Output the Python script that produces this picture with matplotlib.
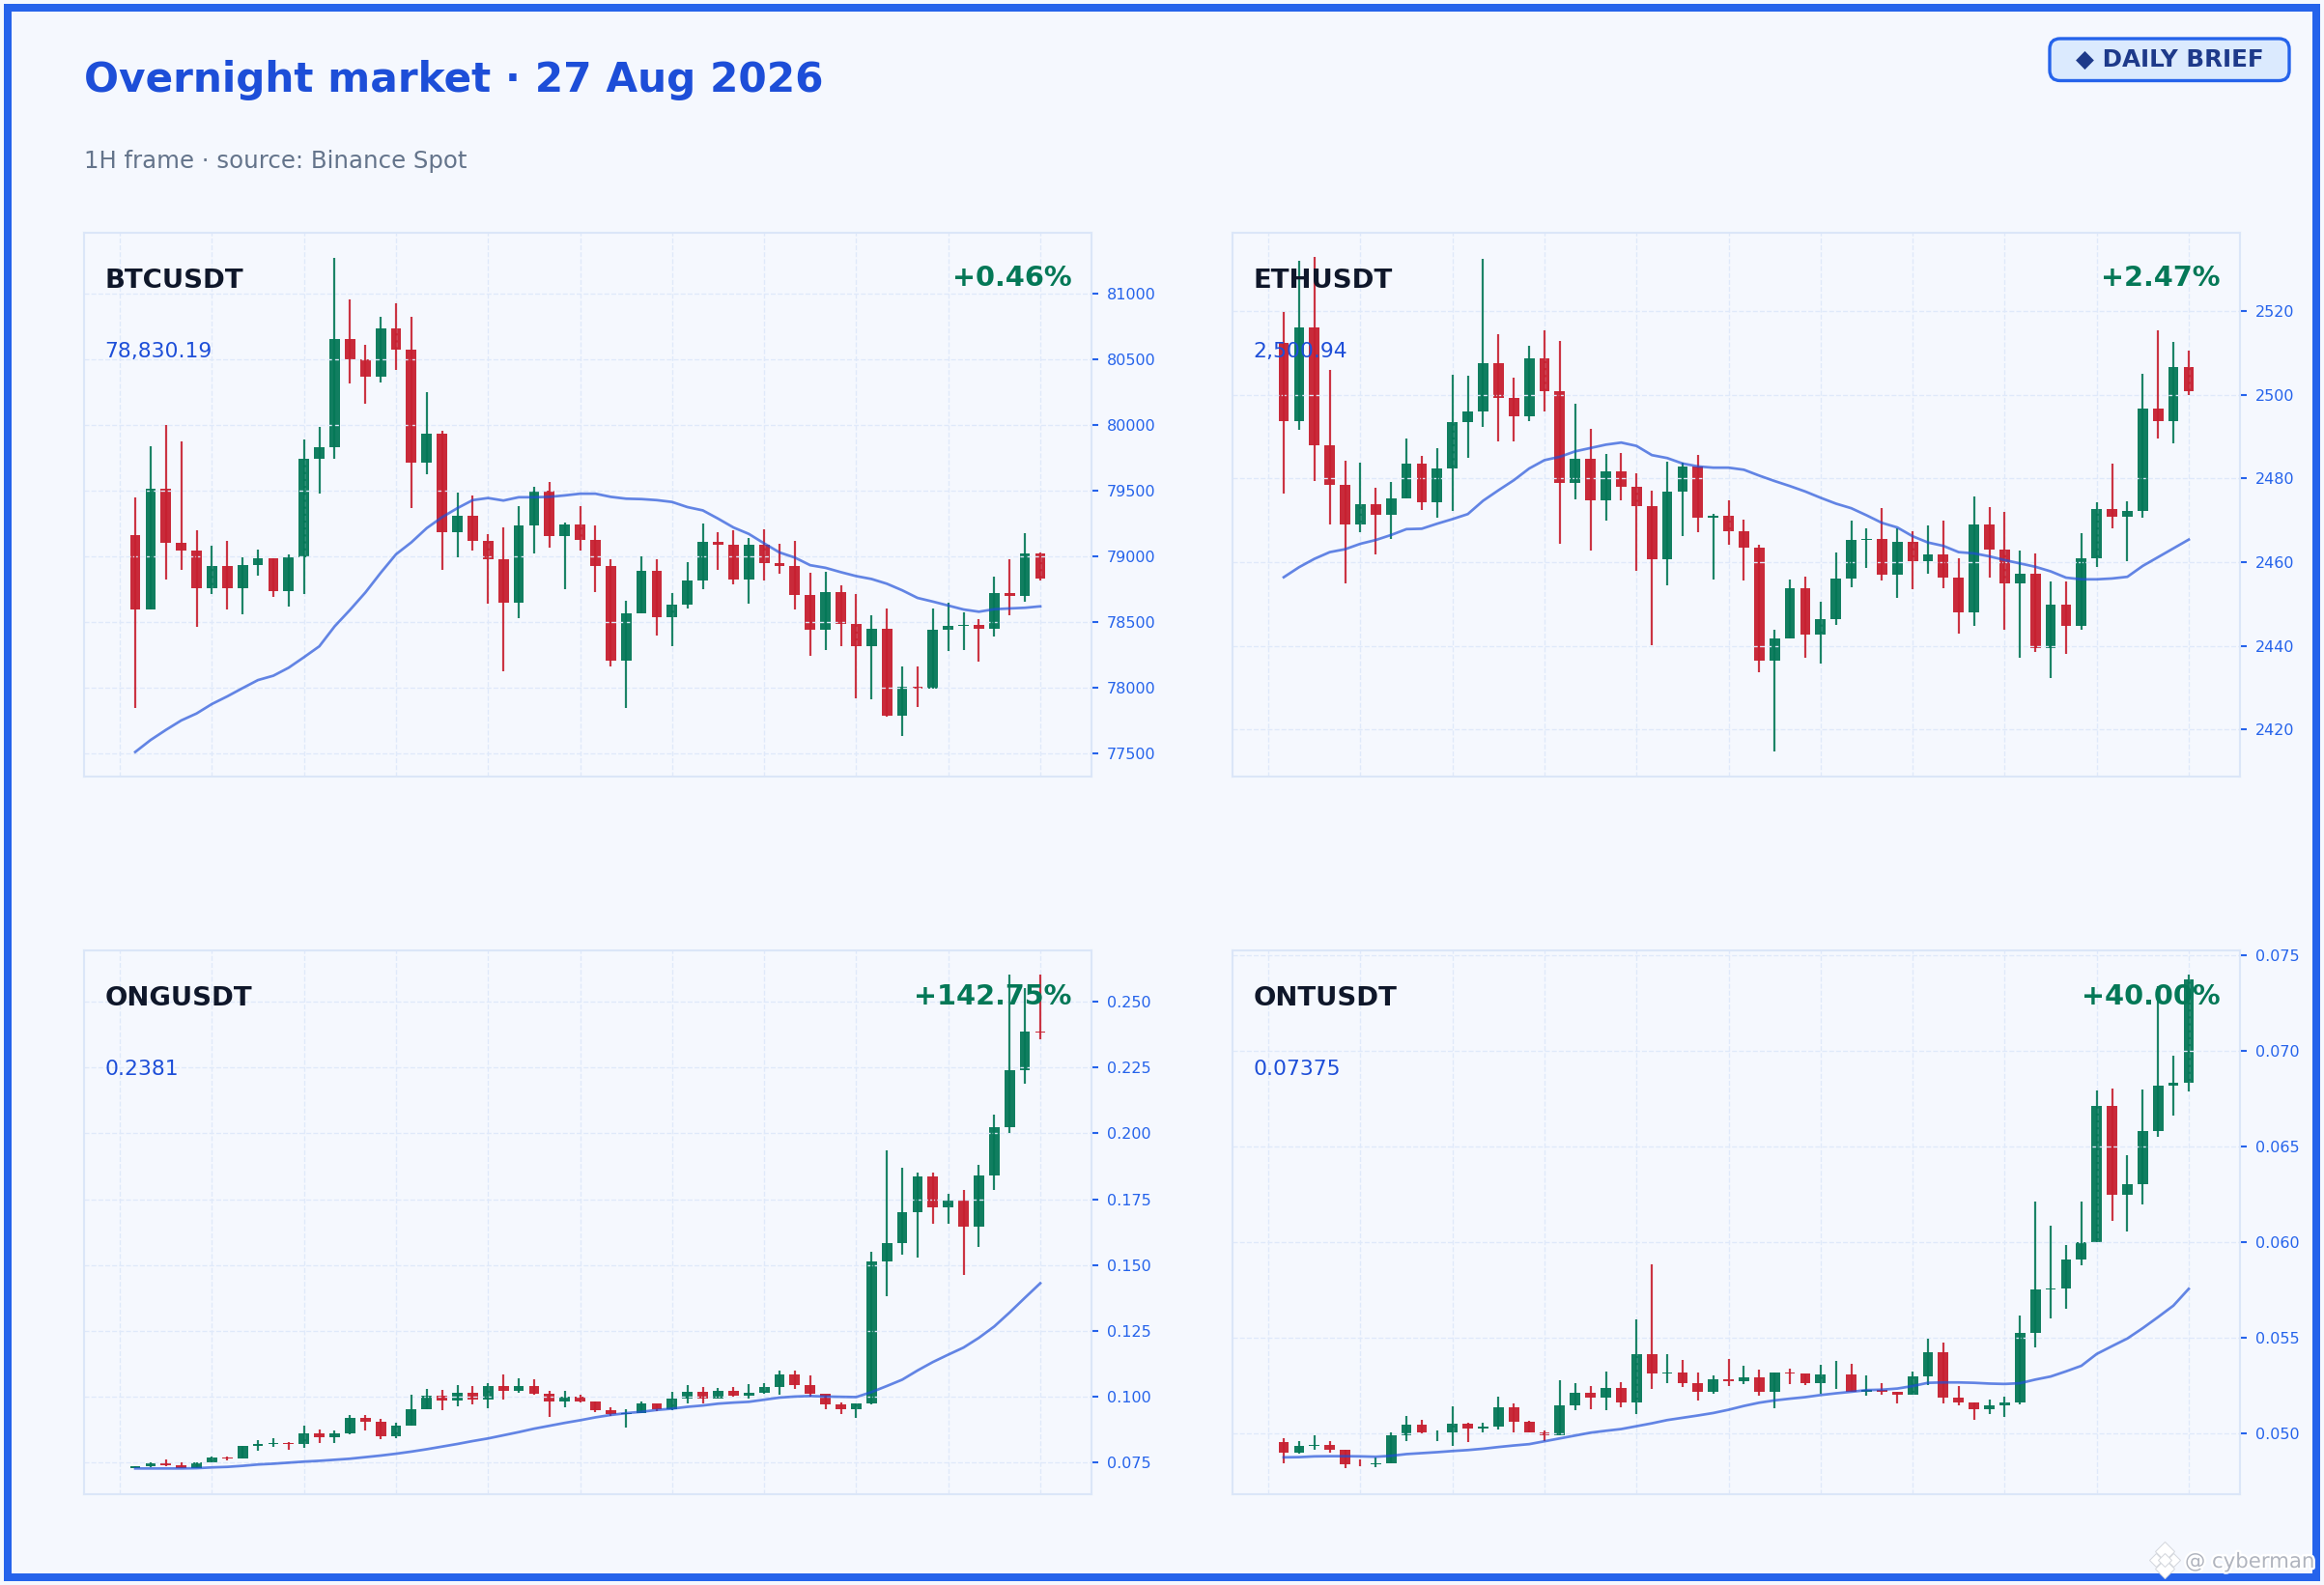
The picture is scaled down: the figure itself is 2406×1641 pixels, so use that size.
import matplotlib
matplotlib.use("Agg")
import matplotlib.pyplot as plt
from matplotlib.patches import Rectangle, FancyBboxPatch
from matplotlib.lines import Line2D
import matplotlib.patheffects as pe

# ---------- data ----------
TITLE = "Overnight market · 27 Aug 2026"
SUBTITLE = "1H frame · source: Binance Spot"
BADGE = "◆ DAILY BRIEF"
WATERMARK = "@ cyberman"

BTC_OPEN0 = 79164
BTC_CLOSE = [78598,79515,79106,79045,78761,78929,78761,78938,78987,78739,
             78996,79745,79833,80654,80500,80370,80737,80574,79712,79936,
             79186,79311,79120,78979,78650,79239,79499,79156,79244,79128,
             78929,78208,78570,78893,78540,78636,78819,79112,79092,78827,
             79090,78951,78932,78708,78443,78730,78490,78318,78451,77790,
             78011,77992,78443,78473,78481,78454,78722,78703,79023,78830.19]
BTC_HIGH = [79452,79839,79999,79878,79200,79084,79120,78996,79054,78987,
            79018,79891,79988,81276,80956,80610,80826,80928,80826,80251,
            79958,79488,79466,79173,79222,79388,79532,79568,79258,79385,
            79239,78979,78664,79001,78979,78722,78960,79253,79186,79203,
            79142,79209,79098,79120,78877,78888,78783,78716,78553,78606,
            78164,78164,78606,78647,78575,78526,78849,78979,79178,79032]
BTC_LOW = [77851,78598,78827,78899,78465,78719,78598,78564,78857,78697,
           78622,78719,79482,79745,80317,80160,80328,80419,79369,79629,
           78896,78998,79045,78642,78125,78531,79023,79068,78752,79045,
           78730,78166,77851,78570,78401,78316,78609,78755,78899,78788,
           78642,78819,78871,78598,78246,78291,78318,77923,77915,77779,
           77635,77857,77992,78282,78291,78202,78393,78553,78658,78819]
BTC_MA = [77514,77605,77682,77754,77807,77879,77937,78000,78061,78094,
          78155,78235,78318,78470,78595,78727,78877,79018,79109,79217,
          79300,79369,79430,79446,79427,79452,79452,79455,79466,79479,
          79479,79455,79441,79438,79430,79416,79377,79352,79289,79222,
          79173,79101,79032,78993,78935,78915,78882,78852,78830,78794,
          78744,78686,78658,78628,78598,78581,78600,78606,78611,78622]
BTC_TICKS = [77500,78000,78500,79000,79500,80000,80500,81000]
BTC_YLIM = (77329, 81462)

ETH_OPEN0 = 2512.4
ETH_CLOSE = [2493.8,2516.1,2487.9,2478.5,2469.0,2473.9,2471.3,2475.3,2483.6,2474.3,
             2482.4,2493.5,2496.0,2507.6,2499.2,2494.9,2508.7,2500.9,2478.9,2484.7,
             2474.8,2481.7,2478.0,2473.4,2460.7,2476.9,2482.9,2470.7,2471.1,2467.4,
             2463.4,2436.4,2441.8,2453.8,2442.7,2446.4,2456.1,2465.4,2465.5,2457.0,
             2464.8,2460.2,2461.9,2456.3,2448.0,2469.0,2463.0,2454.9,2457.3,2439.5,
             2449.9,2444.8,2460.9,2472.7,2470.8,2472.2,2496.7,2493.8,2506.6,2500.94]
ETH_HIGH = [2519.8,2532.1,2532.9,2505.9,2484.3,2483.8,2477.8,2479.2,2489.6,2485.4,
            2487.2,2504.8,2504.5,2532.5,2514.5,2504.1,2511.7,2515.4,2512.9,2497.8,
            2491.9,2485.9,2486.1,2481.3,2477.1,2484.0,2483.8,2485.7,2471.5,2474.8,
            2470.1,2464.1,2443.8,2455.9,2456.6,2450.6,2462.3,2470.0,2468.1,2472.9,
            2468.1,2467.4,2468.8,2470.0,2460.9,2475.7,2473.2,2472.0,2462.7,2462.0,
            2455.4,2455.4,2466.9,2474.3,2483.6,2474.6,2505.0,2515.4,2512.6,2510.6]
ETH_LOW = [2476.4,2491.7,2479.4,2469.0,2454.9,2467.2,2461.9,2465.5,2475.3,2472.5,
           2470.7,2472.2,2485.0,2492.4,2488.9,2488.9,2493.8,2496.0,2464.4,2475.0,
           2462.7,2470.0,2474.8,2458.0,2440.2,2454.5,2466.2,2467.2,2455.9,2464.1,
           2455.6,2433.7,2414.8,2441.8,2437.1,2435.7,2445.0,2454.0,2458.7,2455.6,
           2451.5,2453.5,2457.3,2453.8,2442.9,2444.8,2456.3,2443.8,2437.1,2438.5,
           2432.3,2438.1,2443.9,2458.8,2468.1,2460.2,2470.7,2489.6,2488.4,2499.9]
ETH_MA = [2456.4,2458.8,2460.8,2462.4,2463.1,2464.4,2465.3,2466.5,2467.9,2468.0,
          2469.2,2470.3,2471.5,2474.7,2477.2,2479.6,2482.4,2484.4,2485.2,2486.5,
          2487.3,2488.1,2488.6,2487.8,2485.6,2484.9,2483.6,2482.9,2482.6,2482.6,
          2482.1,2480.7,2479.4,2478.2,2476.9,2475.4,2474.0,2472.9,2471.2,2469.4,
          2468.3,2466.2,2464.7,2463.9,2462.4,2462.1,2461.4,2460.5,2459.7,2458.9,
          2457.8,2456.3,2455.9,2455.9,2456.1,2456.5,2459.1,2461.2,2463.3,2465.4]
ETH_TICKS = [2420,2440,2460,2480,2500,2520]
ETH_YLIM = (2408.8, 2538.7)

ONG_OPEN0 = 0.0729
ONG_CLOSE = [.0737,.0748,.0740,.0729,.0751,.0770,.0765,.0814,.0821,.0825,
             .0821,.0862,.0847,.0862,.0920,.0906,.0850,.0891,.0953,.1005,
             .0987,.1016,.0990,.1042,.1023,.1042,.1012,.0983,.1001,.0983,
             .0948,.0934,.0939,.0974,.0953,.0993,.1019,.0993,.1022,.1004,
             .1014,.1037,.1084,.1045,.1011,.0972,.0953,.0974,.1514,.1583,
             .1701,.1837,.1719,.1745,.1646,.1840,.2023,.2240,.2386,.2381]
ONG_HIGH = [.0737,.0751,.0762,.0751,.0751,.0773,.0773,.0814,.0836,.0843,
            .0828,.0891,.0876,.0873,.0931,.0931,.0917,.0902,.1009,.1031,
            .1027,.1045,.1042,.1053,.1086,.1071,.1067,.1023,.1023,.1009,
            .0982,.0962,.0953,.0981,.0972,.1019,.1045,.1037,.1034,.1039,
            .1047,.1052,.1099,.1099,.1081,.1008,.0978,.0974,.1551,.1936,
            .1870,.1851,.1851,.1770,.1785,.1880,.2072,.2603,.2552,.2603]
ONG_LOW = [.0729,.0733,.0737,.0729,.0729,.0751,.0759,.0765,.0795,.0810,
           .0799,.0806,.0825,.0825,.0858,.0873,.0839,.0843,.0891,.0953,
           .0950,.0964,.0972,.0957,.0990,.1016,.1009,.0924,.0961,.0979,
           .0942,.0928,.0883,.0938,.0946,.0951,.0974,.0974,.0993,.1000,
           .0993,.1011,.1008,.1030,.1000,.0953,.0935,.0920,.0972,.1381,
           .1540,.1528,.1657,.1657,.1463,.1568,.1785,.2001,.2188,.2357]
ONG_MA = [.0728,.0728,.0728,.0728,.0729,.0732,.0734,.0738,.0743,.0746,
          .0750,.0754,.0757,.0761,.0765,.0771,.0777,.0784,.0792,.0801,
          .0811,.0821,.0832,.0842,.0854,.0866,.0879,.0890,.0901,.0911,
          .0922,.0931,.0938,.0943,.0950,.0955,.0962,.0967,.0974,.0978,
          .0981,.0989,.0997,.1001,.1003,.1001,.1000,.0999,.1018,.1041,
          .1065,.1100,.1132,.1160,.1187,.1224,.1267,.1320,.1376,.1431]
ONG_TICKS = [.075,.100,.125,.150,.175,.200,.225,.250]
ONG_YLIM = (0.0631, 0.2693)

ONT_OPEN0 = 0.04956
ONT_CLOSE = [.04896,.04936,.04939,.04916,.04840,.04837,.04845,.04987,.05047,.05002,
             .05007,.05052,.05027,.05037,.05138,.05062,.05002,.04987,.05148,.05214,
             .05189,.05239,.05163,.05416,.05315,.05320,.05264,.05219,.05285,.05274,
             .05292,.05219,.05318,.05312,.05262,.05307,.05308,.05219,.05228,.05219,
             .05204,.05297,.05424,.05185,.05161,.05125,.05146,.05161,.05525,.05752,
             .05757,.05909,.06000,.06713,.06247,.06303,.06582,.06820,.06834,.07375]
ONT_HIGH = [.04976,.04961,.04987,.04961,.04916,.04865,.04875,.05002,.05088,.05072,
            .05017,.05143,.05057,.05057,.05194,.05158,.05067,.05017,.05279,.05264,
            .05249,.05325,.05269,.05598,.05886,.05416,.05386,.05320,.05305,.05391,
            .05355,.05331,.05318,.05338,.05307,.05357,.05378,.05363,.05303,.05262,
            .05217,.05322,.05494,.05475,.05247,.05161,.05176,.05194,.05615,.06212,
            .06086,.05985,.06212,.06793,.06805,.06455,.06799,.07341,.06977,.07401]
ONT_LOW = [.04845,.04891,.04916,.04896,.04815,.04830,.04825,.04845,.04961,.04997,
           .04961,.04936,.04956,.05002,.05022,.05002,.05002,.04961,.04987,.05123,
           .05128,.05123,.05138,.05103,.05234,.05264,.05244,.05173,.05209,.05249,
           .05259,.05199,.05133,.05256,.05252,.05206,.05232,.05219,.05196,.05202,
           .05155,.05202,.05252,.05155,.05146,.05069,.05101,.05084,.05151,.05449,
           .05600,.05651,.05879,.06000,.06111,.06055,.06197,.06550,.06662,.06788]
ONT_MA = [.04874,.04875,.04879,.04880,.04880,.04879,.04877,.04882,.04891,.04896,
          .04901,.04907,.04912,.04919,.04928,.04936,.04943,.04958,.04973,.04988,
          .05003,.05013,.05022,.05037,.05052,.05069,.05081,.05093,.05106,.05123,
          .05143,.05160,.05172,.05181,.05189,.05200,.05209,.05217,.05226,.05228,
          .05234,.05247,.05264,.05266,.05266,.05264,.05260,.05258,.05262,.05281,
          .05297,.05324,.05353,.05415,.05456,.05496,.05550,.05608,.05668,.05756]
ONT_TICKS = [.050,.055,.060,.065,.070,.075]
ONT_YLIM = (0.04682, 0.07525)

PANELS = [
    ("BTCUSDT", "78,830.19", "+0.46%", BTC_OPEN0, BTC_CLOSE, BTC_HIGH, BTC_LOW, BTC_MA, BTC_TICKS, BTC_YLIM, "{:.0f}"),
    ("ETHUSDT", "2,500.94", "+2.47%", ETH_OPEN0, ETH_CLOSE, ETH_HIGH, ETH_LOW, ETH_MA, ETH_TICKS, ETH_YLIM, "{:.0f}"),
    ("ONGUSDT", "0.2381", "+142.75%", ONG_OPEN0, ONG_CLOSE, ONG_HIGH, ONG_LOW, ONG_MA, ONG_TICKS, ONG_YLIM, "{:.3f}"),
    ("ONTUSDT", "0.07375", "+40.00%", ONT_OPEN0, ONT_CLOSE, ONT_HIGH, ONT_LOW, ONT_MA, ONT_TICKS, ONT_YLIM, "{:.3f}"),
]

# ---------- style ----------
W, H = 2406, 1641
DPI = 150
BG = "#f5f8fe"
BLUE = "#2563eb"
GRID = "#dfe9fa"
SPINE = "#dbe6f8"
UP = "#047857"
DOWN = "#c71f2f"
AXES_PX = [(87, 241.3, 1130, 803.7), (1276, 241.3, 2319, 803.7),
           (87, 984.4, 1130, 1546.8), (1276, 984.4, 2319, 1546.8)]

fig = plt.figure(figsize=(W / DPI, H / DPI), dpi=DPI, facecolor=BG)


def fx(px):
    return px / W


def fy(py):
    return 1 - py / H


fig.add_artist(Rectangle((fx(8), fy(1633)), fx(2390), (1633 - 8) / H,
                         transform=fig.transFigure, fill=False, edgecolor=BLUE, linewidth=3.84))

fig.text(fx(87), fy(95), TITLE, fontsize=20.3, fontweight="bold", color="#1d4ed8", va="baseline", ha="left")
fig.text(fx(87), fy(174), SUBTITLE, fontsize=11.7, color="#64748b", va="baseline", ha="left")

fig.add_artist(FancyBboxPatch((fx(2122), fy(83.5)), fx(2370 - 2122), (83.5 - 40) / H,
                              boxstyle="round,pad=0,rounding_size=0.0045",
                              transform=fig.transFigure, facecolor="#dbeafe", edgecolor=BLUE, linewidth=1.6,
                              mutation_aspect=W / H))
fig.text(fx(2246), fy(62), BADGE, fontsize=11.8, fontweight="bold", color="#1e3a8a", va="center", ha="center")

for (l, t, r, b), (name, price, chg, o0, close, high, low, ma, ticks, ylim, fmt) in zip(AXES_PX, PANELS):
    ax = fig.add_axes([fx(l), fy(b), (r - l) / W, (b - t) / H], facecolor=BG)
    xs = list(range(len(close)))
    opens = [o0] + close[:-1]
    colors = [UP if c >= o else DOWN for o, c in zip(opens, close)]
    bottoms = [min(o, c) for o, c in zip(opens, close)]
    heights = [abs(c - o) for o, c in zip(opens, close)]
    ax.bar(xs, heights, 0.68, bottom=bottoms, color=colors, alpha=0.95, linewidth=0, zorder=1)
    ax.vlines(xs, low, high, colors=colors, linewidth=1.05, alpha=0.9, zorder=2)
    ax.plot(xs, ma, color="#1d4ed8", linewidth=1.3, alpha=0.68, zorder=3)

    ax.set_xlim(-3.34, 62.34)
    ax.set_ylim(*ylim)
    ax.set_xticks(list(range(-1, 60, 6)))
    ax.tick_params(axis="x", length=0, labelbottom=False)
    ax.set_yticks(ticks)
    ax.set_yticklabels([fmt.format(v) for v in ticks])
    ax.yaxis.tick_right()
    ax.tick_params(axis="y", colors=BLUE, labelcolor=BLUE, labelsize=7.7, length=3.5, width=1.0, pad=4)
    ax.grid(True, color=GRID, linewidth=0.65, linestyle="--")
    for s in ax.spines.values():
        s.set_color(SPINE)
        s.set_linewidth(1.0)

    ax.text(0.0207, 0.900, name, transform=ax.transAxes, fontsize=13.2, fontweight="bold",
            color="#0f172a", va="baseline", ha="left", zorder=6)
    ax.text(0.0207, 0.772, price, transform=ax.transAxes, fontsize=10.5, color="#1d4ed8",
            va="baseline", ha="left", zorder=6)
    ax.text(0.98, 0.902, chg, transform=ax.transAxes, fontsize=13.8, fontweight="bold",
            color=UP, va="baseline", ha="right", zorder=6)

# watermark
cx, cy, d = 2240.7, 1615, 9
for dx, dy, ms in [(0, -d, 6.5), (-d, 0, 4.5), (d, 0, 4.5), (0, d, 6.5), (0, 0, 4.5)]:
    fig.add_artist(Line2D([fx(cx + dx)], [fy(cy + dy)], marker="D", markersize=ms, transform=fig.transFigure,
                          markerfacecolor="#ffffff", markeredgecolor="#d5d8de", markeredgewidth=0.5, linestyle="none"))
fig.text(fx(2262), fy(1623), WATERMARK, fontsize=10.2, color="#b0b4be", va="baseline", ha="left",
         path_effects=[pe.withStroke(linewidth=2.2, foreground="white")])

fig.savefig("out.png", dpi=DPI, facecolor=BG)
